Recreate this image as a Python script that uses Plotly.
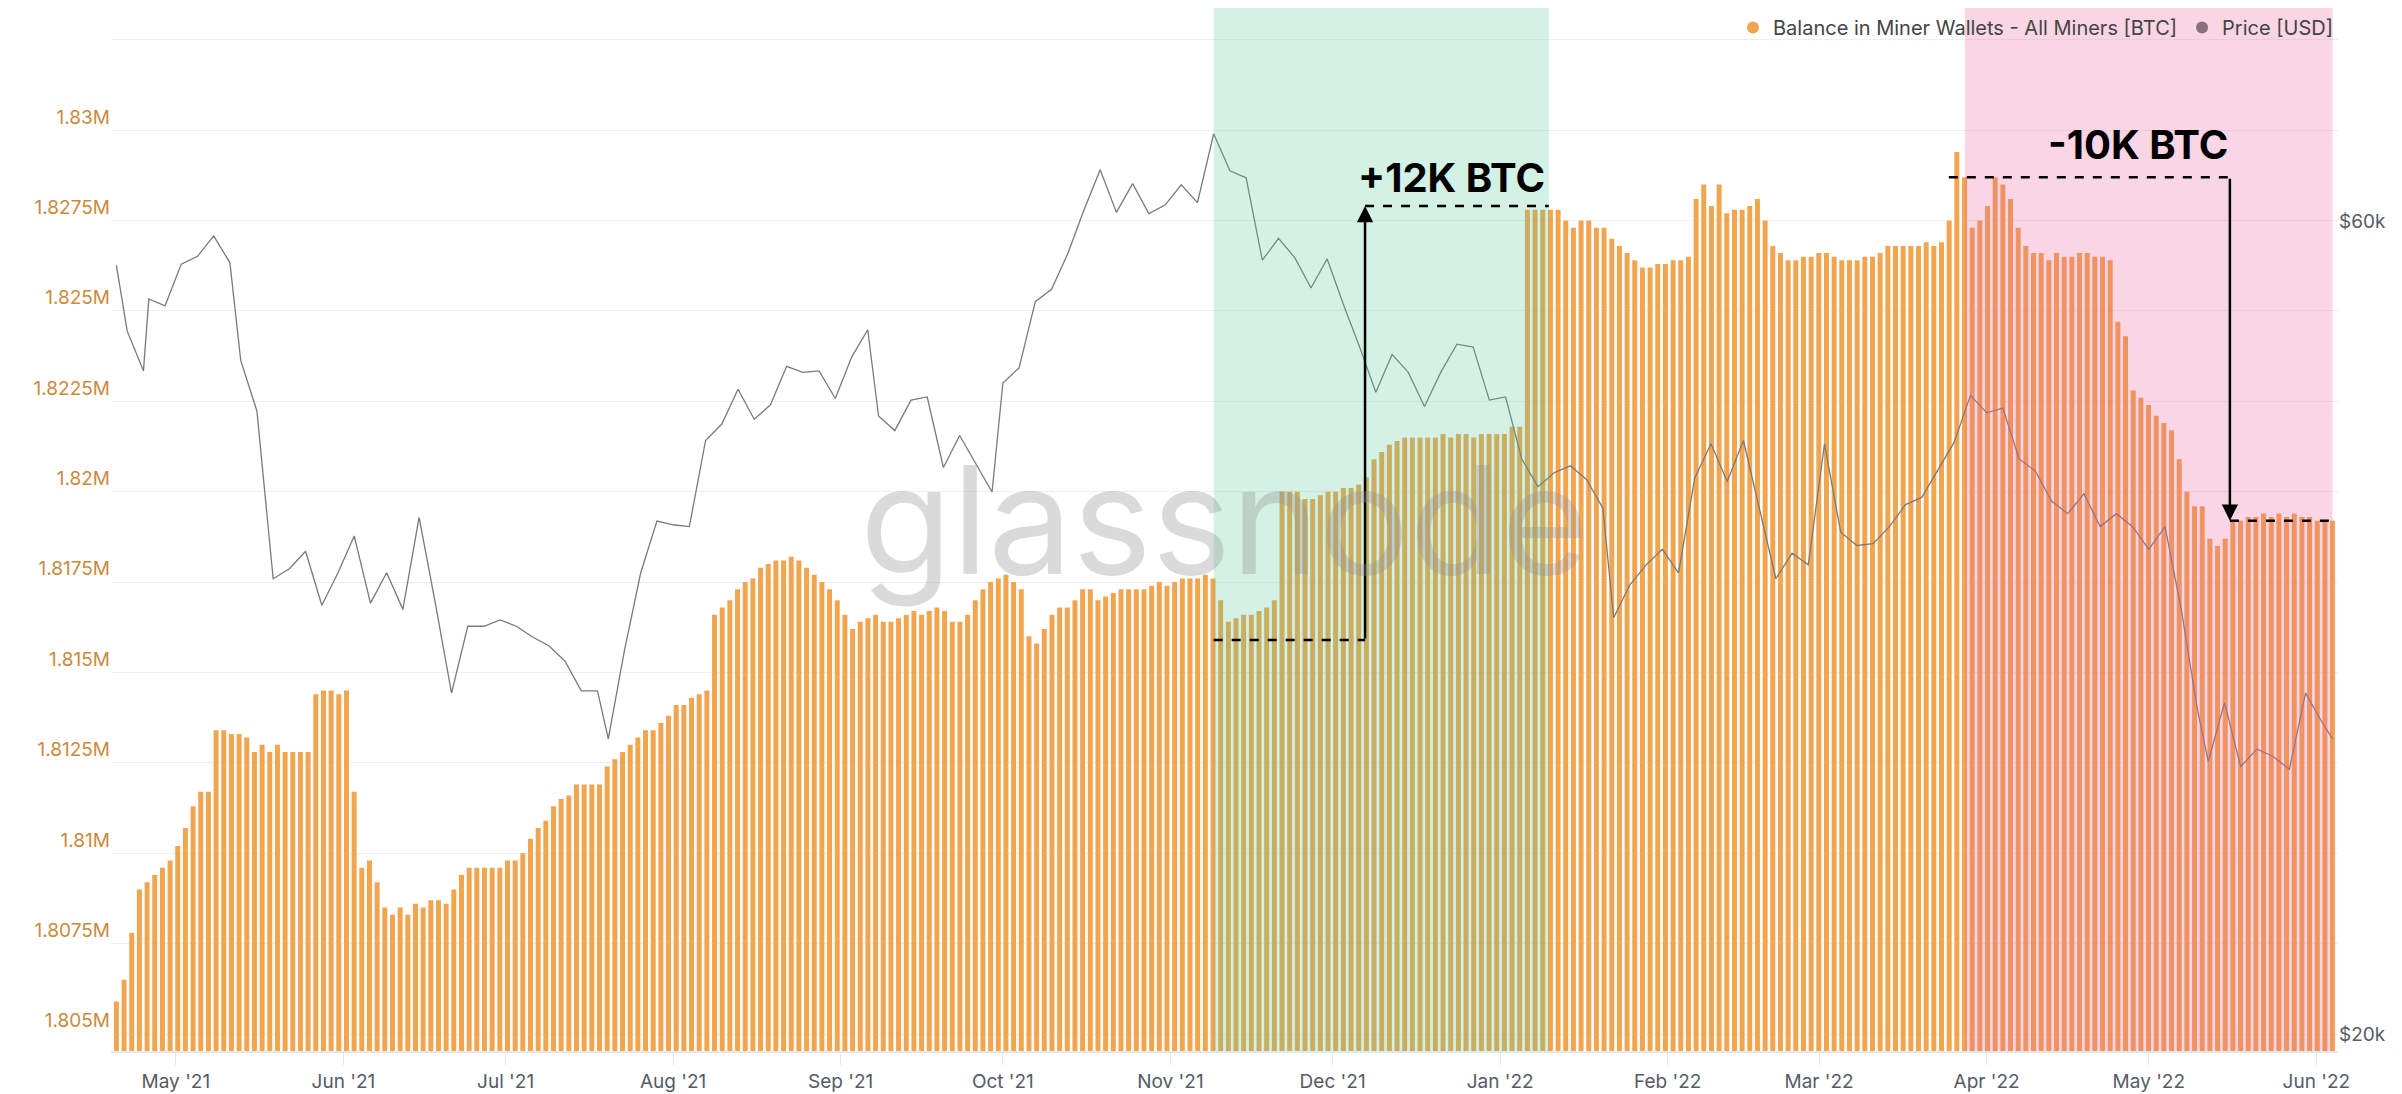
import pandas as pd
import plotly.graph_objects as go

# Balance in miner wallets, thousands of BTC
balance_k = [
 1805.9,1806.5,1807.8,1809.0,1809.2,1809.4,1809.6,1809.8,1810.2,1810.7,1811.3,1811.7,1811.7,1813.4,1813.4,1813.3,1813.3,1813.2,1812.8,1813.0,
 1812.8,1813.0,1812.8,1812.8,1812.8,1812.8,1814.4,1814.5,1814.5,1814.4,1814.5,1811.7,1809.6,1809.8,1809.2,1808.5,1808.3,1808.5,1808.3,1808.6,
 1808.5,1808.7,1808.7,1808.6,1809.0,1809.4,1809.6,1809.6,1809.6,1809.6,1809.6,1809.8,1809.8,1810.0,1810.4,1810.7,1810.9,1811.3,1811.5,1811.6,
 1811.9,1811.9,1811.9,1811.9,1812.4,1812.6,1812.8,1813.0,1813.2,1813.4,1813.4,1813.6,1813.8,1814.1,1814.1,1814.3,1814.4,1814.5,
 1816.6,1816.8,1817.0,1817.3,1817.5,1817.6,1817.9,1818.0,1818.1,1818.1,1818.2,1818.1,1817.9,1817.7,1817.5,1817.3,1817.0,1816.6,1816.2,1816.4,
 1816.5,1816.6,1816.4,1816.4,1816.5,1816.6,1816.7,1816.6,1816.7,1816.8,1816.7,1816.4,1816.4,1816.6,1817.0,1817.3,1817.5,1817.6,1817.7,1817.5,
 1817.3,1816.0,1815.8,1816.2,1816.6,1816.8,1816.8,1817.0,1817.3,1817.3,1817.0,1817.1,1817.2,1817.3,1817.3,1817.3,1817.3,1817.4,1817.5,1817.4,
 1817.5,1817.6,1817.6,1817.6,1817.7,1817.6,1817.0,1816.4,1816.5,1816.6,1816.6,1816.7,1816.8,1817.0,1820.0,1820.0,1820.0,1819.8,1819.8,1819.9,
 1820.0,1820.0,1820.1,1820.1,1820.2,1820.4,1820.9,1821.1,1821.3,1821.4,1821.5,1821.5,1821.5,1821.5,1821.5,1821.6,1821.5,1821.6,1821.6,1821.5,
 1821.6,1821.6,1821.6,1821.6,1821.8,1821.8,
 1827.8,1827.8,1827.8,1827.8,1827.8,1827.5,1827.3,1827.5,1827.5,1827.3,1827.3,1827.0,1826.8,1826.6,1826.4,1826.2,1826.2,1826.3,1826.3,1826.4,
 1826.4,1826.5,1828.1,1828.5,1827.9,1828.5,1827.7,1827.8,1827.8,1827.9,1828.1,1827.5,1826.8,1826.6,1826.4,1826.4,1826.5,1826.5,1826.6,1826.6,
 1826.5,1826.4,1826.4,1826.4,1826.5,1826.5,1826.6,1826.8,1826.8,1826.8,1826.8,1826.8,1826.9,1826.8,1826.9,1827.5,1829.4,1828.7,1827.3,1827.5,
 1827.9,1828.7,1828.5,1828.1,1827.3,1826.8,1826.6,1826.6,1826.4,1826.6,1826.5,1826.5,1826.6,1826.6,1826.5,1826.5,1826.4,1824.7,1824.3,1822.8,
 1822.6,1822.4,1822.1,1821.9,1821.7,1820.9,1820.0,1819.6,1819.6,1818.7,1818.5,1818.7,1819.2,1819.2,1819.3,1819.3,1819.4,1819.3,1819.4,1819.3,
 1819.4,1819.3,1819.3,1819.2,1819.2,1819.2,
]
balance_start, balance_end = "2021-04-20", "2022-06-04"

price_dates = [
 "2021-04-20","2021-04-22","2021-04-25","2021-04-26","2021-04-29","2021-05-02","2021-05-05","2021-05-08","2021-05-11","2021-05-13",
 "2021-05-16","2021-05-19","2021-05-22","2021-05-25","2021-05-28","2021-05-31","2021-06-03","2021-06-06","2021-06-09","2021-06-12",
 "2021-06-15","2021-06-18","2021-06-21","2021-06-24","2021-06-27","2021-06-30","2021-07-03","2021-07-06","2021-07-09","2021-07-12",
 "2021-07-15","2021-07-18","2021-07-20","2021-07-23","2021-07-26","2021-07-29","2021-08-01","2021-08-04","2021-08-07","2021-08-10",
 "2021-08-13","2021-08-16","2021-08-19","2021-08-22","2021-08-25","2021-08-28","2021-08-31","2021-09-03","2021-09-06","2021-09-08",
 "2021-09-11","2021-09-14","2021-09-17","2021-09-20","2021-09-23","2021-09-26","2021-09-29","2021-10-01","2021-10-04","2021-10-07",
 "2021-10-10","2021-10-13","2021-10-16","2021-10-19","2021-10-22","2021-10-25","2021-10-28","2021-10-31","2021-11-03","2021-11-06",
 "2021-11-09","2021-11-12","2021-11-15","2021-11-18","2021-11-21","2021-11-24","2021-11-27","2021-11-30","2021-12-03","2021-12-06",
 "2021-12-09","2021-12-12","2021-12-15","2021-12-18","2021-12-21","2021-12-24","2021-12-27","2021-12-30","2022-01-02","2022-01-05",
 "2022-01-08","2022-01-11","2022-01-14","2022-01-17","2022-01-20","2022-01-22","2022-01-25","2022-01-28","2022-01-31","2022-02-03",
 "2022-02-06","2022-02-09","2022-02-12","2022-02-15","2022-02-18","2022-02-21","2022-02-24","2022-02-27","2022-03-02","2022-03-05",
 "2022-03-08","2022-03-11","2022-03-14","2022-03-17","2022-03-20","2022-03-23","2022-03-26","2022-03-29","2022-04-01","2022-04-04",
 "2022-04-07","2022-04-10","2022-04-13","2022-04-16","2022-04-19","2022-04-22","2022-04-25","2022-04-28","2022-05-01","2022-05-04",
 "2022-05-07","2022-05-10","2022-05-12","2022-05-15","2022-05-18","2022-05-21","2022-05-24","2022-05-27","2022-05-30","2022-06-02",
 "2022-06-04",
]
price_k = [
 56.5,51.7,49.0,54.0,53.5,56.6,57.2,58.8,56.7,49.7,
 46.4,37.0,37.5,38.4,35.7,37.3,39.2,35.8,37.3,35.5,
 40.2,35.8,31.7,34.7,34.7,35.0,34.7,34.2,33.8,33.1,
 31.8,31.8,29.8,33.6,37.3,40.0,39.8,39.7,44.6,45.6,
 47.8,45.9,46.8,49.3,48.9,49.0,47.2,49.9,51.8,46.1,
 45.2,47.1,47.3,43.0,44.9,43.2,41.6,48.2,49.2,53.8,
 54.7,57.4,60.9,64.3,60.7,63.1,60.6,61.3,63.0,61.5,
 67.5,64.2,63.6,56.9,58.6,57.1,54.8,57.0,53.6,50.6,
 47.6,50.1,48.9,46.7,48.9,50.8,50.6,47.1,47.3,43.5,
 41.9,42.7,43.1,42.3,40.7,35.1,36.7,37.7,38.5,37.3,
 42.4,44.4,42.2,44.6,40.6,37.0,38.3,37.7,44.4,39.4,
 38.7,38.8,39.7,40.9,41.3,42.9,44.5,47.4,46.3,46.6,
 43.5,42.8,41.1,40.4,41.5,39.7,40.4,39.7,38.5,39.7,
 35.5,31.0,28.9,31.3,28.7,29.4,29.1,28.6,31.7,30.5,
 29.8,
]

left_ticks = [1.805, 1.8075, 1.81, 1.8125, 1.815, 1.8175, 1.82, 1.8225, 1.825, 1.8275, 1.83, 1.8325]
left_labels = ["1.805M", "1.8075M", "1.81M", "1.8125M", "1.815M", "1.8175M", "1.82M", "1.8225M",
               "1.825M", "1.8275M", "1.83M", ""]
right_ticks = [20000, 60000]
right_labels = ["$20k", "$60k"]

# highlighted periods and annotation levels (M BTC)
green_span = ("2021-11-09", "2022-01-10")
pink_span = ("2022-03-28", "2022-06-04")
gain_low, gain_high = 1.8159, 1.8279
loss_high, loss_low = 1.8287, 1.8192

bal_dates = pd.date_range(balance_start, balance_end, periods=len(balance_k))
bal_m = [v / 1000 for v in balance_k]
price = [p * 1000 for p in price_k]

ORANGE = "#F2A54F"
fig = go.Figure()
fig.add_trace(go.Bar(x=bal_dates, y=bal_m, marker_color=ORANGE, marker_line_width=0,
                     showlegend=False, yaxis="y"))
fig.add_trace(go.Scatter(x=price_dates, y=price, mode="lines", line=dict(color="#7a7a7a", width=1.3),
                         showlegend=False, yaxis="y2"))
fig.add_trace(go.Scatter(x=[None], y=[None], mode="markers", marker=dict(color=ORANGE, size=12),
                         name="Balance in Miner Wallets - All Miners [BTC]"))
fig.add_trace(go.Scatter(x=[None], y=[None], mode="markers", marker=dict(color="#8a6f7c", size=12),
                         name="Price [USD]"))

fig.add_vrect(x0=green_span[0], x1=green_span[1], fillcolor="rgba(80,200,150,0.25)", line_width=0, layer="above")
fig.add_vrect(x0=pink_span[0], x1=pink_span[1], fillcolor="rgba(235,100,150,0.27)", line_width=0, layer="above")

dash = dict(color="black", width=2.5, dash="dash")
fig.add_shape(type="line", x0=green_span[0], x1="2021-12-07", y0=gain_low, y1=gain_low, line=dash)
fig.add_shape(type="line", x0="2021-12-07", x1=green_span[1], y0=gain_high, y1=gain_high, line=dash)
fig.add_shape(type="line", x0="2022-03-25", x1="2022-05-16", y0=loss_high, y1=loss_high, line=dash)
fig.add_shape(type="line", x0="2022-05-16", x1=pink_span[1], y0=loss_low, y1=loss_low, line=dash)

fig.add_annotation(x="2021-12-07", y=gain_high, ax=0, ay=gain_low, axref="pixel", ayref="y",
                   xref="x", yref="y", showarrow=True, arrowhead=2, arrowsize=1.3, arrowwidth=2.5,
                   arrowcolor="black", text="")
fig.add_annotation(x="2022-05-16", y=loss_low, ax=0, ay=loss_high, axref="pixel", ayref="y",
                   xref="x", yref="y", showarrow=True, arrowhead=2, arrowsize=1.3, arrowwidth=2.5,
                   arrowcolor="black", text="")
fig.add_annotation(x="2021-12-23", y=1.8287, text="<b>+12K BTC</b>", showarrow=False,
                   font=dict(size=40, color="black", family="Inter"))
fig.add_annotation(x="2022-04-29", y=1.8296, text="<b>-10K BTC</b>", showarrow=False,
                   font=dict(size=40, color="black", family="Inter"))
fig.add_annotation(x=0.5, y=0.51, xref="paper", yref="paper", text="glassnode", showarrow=False,
                   font=dict(size=150, color="rgba(150,150,150,0.35)", family="Inter"))

fig.update_layout(
    width=2402, height=1094, paper_bgcolor="white", plot_bgcolor="white",
    margin=dict(l=103, r=72, t=0, b=51),
    font=dict(family="Inter", size=17, color="#555b66"),
    bargap=0.35,
    legend=dict(orientation="h", x=1, xanchor="right", y=1, yanchor="top",
                bgcolor="rgba(0,0,0,0)", font=dict(size=20, color="#444"), itemwidth=30),
    xaxis=dict(type="date", range=["2021-04-19", "2022-06-05"], tickformat="%b '%y", dtick="M1",
               showgrid=False, ticks="outside", ticklen=12, tickcolor="#e6e6e6",
               showline=True, linecolor="#e6e6e6", linewidth=2, tickfont=dict(size=19, color="#555b66")),
    yaxis=dict(range=[1.80453, 1.83338], tickvals=left_ticks, ticktext=left_labels,
               ticklabelposition="outside top", gridcolor="#efefef", zeroline=False,
               tickfont=dict(size=19, color="#c98a3e")),
    yaxis2=dict(type="log", overlaying="y", side="right", range=[4.2911, 4.9031],
                tickvals=right_ticks, ticktext=right_labels, showgrid=False, zeroline=False,
                tickfont=dict(size=19, color="#555b66")),
)
fig.write_html("out.html")
